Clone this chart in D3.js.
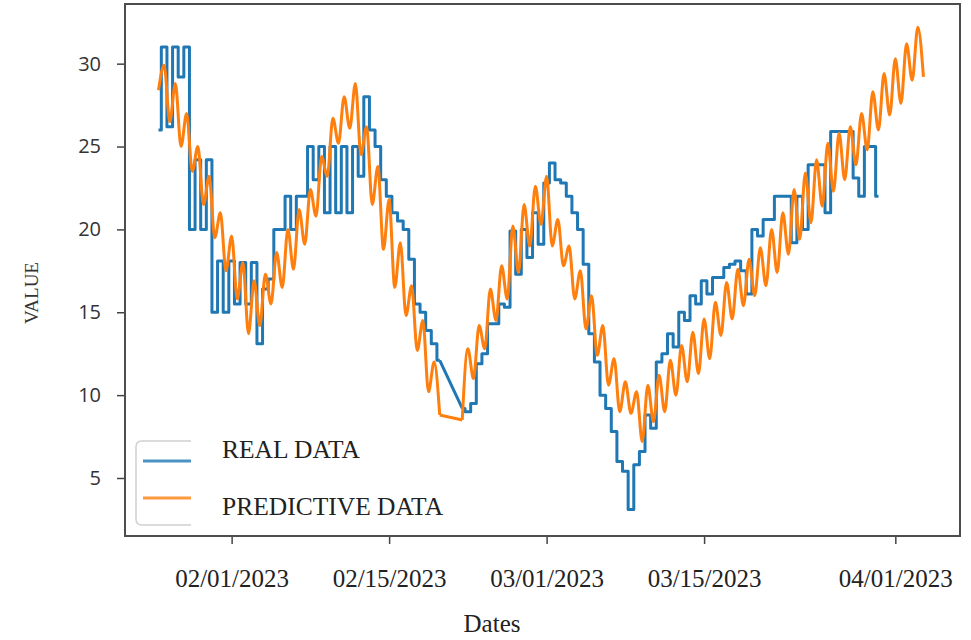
<!DOCTYPE html>
<html lang="en">
<head>
  <meta charset="UTF-8">
  <title>Real vs Predictive Data</title>
  <style>
    body {
      margin: 0;
      background: #fff;
    }
    svg {
      display: block;
    }
  </style>
</head>
<body>
  <svg width="971" height="640"></svg>

  <script src="https://d3js.org/d3.v7.min.js"></script>
  <script>
    // readings every 12 hours, first one on 2023-01-25 12:00 (UTC); null = no reading
    const seriesStart = Date.UTC(2023, 0, 25, 12);

    const realValues = [
      26.0, 31.0, 26.2, 31.0, 29.2, 31.0, 20.0, 24.2, 20.0, 24.2,
      15.0, 18.1, 15.0, 18.1, 15.5, 18.0, 15.5, 18.0, 13.1, 16.4,
      17.0, 20.0, 20.0, 22.0, 20.0, 22.0, 22.0, 25.0, 23.0, 25.0,
      21.0, 25.0, 21.0, 25.0, 21.0, 25.0, 23.2, 28.0, 26.0, 25.0,
      23.0, 22.0, 21.0, 20.5, 20.0, 18.2, 15.5, 15.0, 13.9, 13.1,
      12.1, null, null, null, 9.2, 9.0, 9.5, 11.9, 12.5, 14.3,
      14.3, 15.5, 15.3, 19.9, 17.3, 20.0, 18.3, 21.0, 19.1, 22.8,
      24.0, 23.0, 22.8, 22.0, 21.0, 20.0, 17.9, 13.7, 12.0, 10.0,
      9.2, 7.8, 6.0, 5.4, 3.1, 5.8, 6.6, 8.8, 8.0, 12.0,
      12.5, 13.7, 12.9, 15.0, 14.5, 16.0, 15.5, 16.9, 16.1, 17.1,
      17.1, 17.7, 17.9, 18.1, 17.5, 16.1, 20.0, 19.6, 20.6, 20.6,
      22.0, 22.0, 22.0, 19.2, 22.0, 20.0, 23.9, 23.9, 23.9, 21.0,
      25.9, 25.9, 25.9, 25.9, 23.1, 22.0, 25.0, 25.0, 22.0
    ];

    const predValues = [
      28.4, 29.9, 26.5, 28.8, 25.0, 27.0, 23.5, 25.0, 21.5, 23.2,
      19.5, 21.0, 17.5, 19.6, 15.8, 18.0, 13.7, 16.9, 14.2, 17.3,
      15.5, 18.6, 16.5, 20.0, 17.6, 21.2, 19.1, 22.4, 20.8, 24.4,
      23.2, 26.7, 25.2, 28.0, 26.1, 28.8, 24.5, 26.2, 21.5, 23.8,
      18.8, 21.8, 16.5, 19.2, 14.8, 16.6, 12.7, 14.5, 10.2, 12.0,
      8.8, null, null, null, 8.5, 12.8, 11.0, 14.2, 12.8, 16.4,
      14.5, 17.8, 15.8, 20.2, 17.4, 21.5, 19.0, 22.6, 20.3, 23.2,
      19.0, 20.6, 17.8, 19.0, 15.8, 17.5, 14.0, 16.0, 12.4, 14.2,
      10.6, 12.2, 9.0, 10.8, 8.9, 10.2, 7.2, 10.6, 8.4, 11.2,
      9.0, 12.1, 10.0, 13.0, 10.8, 13.8, 11.3, 14.6, 12.2, 15.6,
      13.6, 16.8, 14.6, 17.6, 15.4, 18.2, 16.0, 18.9, 16.6, 20.0,
      17.4, 21.0, 18.5, 22.4, 19.4, 23.4, 20.4, 24.2, 21.4, 25.2,
      22.3, 25.8, 23.0, 26.2, 23.9, 27.0, 24.8, 28.3, 26.0, 29.4,
      26.9, 30.3, 27.6, 31.2, 29.0, 32.2, 29.2
    ];

    const xTickDates = ["2023-02-01", "2023-02-15", "2023-03-01", "2023-03-15", "2023-04-01"];
    const xTickLabels = ["02/01/2023", "02/15/2023", "03/01/2023", "03/15/2023", "04/01/2023"];
    const yTicks = [5, 10, 15, 20, 25, 30];
    const seriesNames = ["REAL DATA", "PREDICTIVE DATA"];
    const seriesColors = ["#1f77b4", "#ff7f0e"];

    const svg = d3.select("svg");
    const plot = { left: 125, top: 4, right: 960, bottom: 536 };
    const serif = "'Liberation Serif', 'Times New Roman', serif";

    const x = d3.scaleUtc()
      .domain([Date.UTC(2023, 0, 22, 12, 30), Date.UTC(2023, 3, 6, 18)])
      .range([plot.left, plot.right]);

    const y = d3.scaleLinear()
      .domain([1.5, 33.6])
      .range([plot.bottom, plot.top]);

    const halfDay = 12 * 3600 * 1000;

    // split a series into runs of consecutive readings
    function runsOf(values) {
      const runs = [];
      let cur = [];
      values.forEach((v, i) => {
        if (v == null) {
          if (cur.length) runs.push(cur);
          cur = [];
        } else {
          cur.push({ t: new Date(seriesStart + i * halfDay), v: v });
        }
      });
      if (cur.length) runs.push(cur);
      return runs;
    }

    const straight = d3.line().x(d => x(d.t)).y(d => y(d.v));

    function drawSeries(values, color, curve) {
      const g = svg.append("g")
        .attr("fill", "none")
        .attr("stroke", color)
        .attr("stroke-width", 3)
        .attr("stroke-linejoin", "round");
      const runs = runsOf(values);
      const line = d3.line().x(d => x(d.t)).y(d => y(d.v)).curve(curve);
      runs.forEach((run, k) => {
        g.append("path").attr("d", line(run));
        // missing readings are bridged with a plain straight segment
        if (k < runs.length - 1) {
          g.append("path").attr("d", straight([run[run.length - 1], runs[k + 1][0]]));
        }
      });
    }

    drawSeries(realValues, seriesColors[0], d3.curveStep);
    drawSeries(predValues, seriesColors[1], d3.curveMonotoneX);

    // axes
    const xAxis = d3.axisBottom(x)
      .tickValues(xTickDates.map(s => new Date(s + "T00:00:00Z")))
      .tickFormat((d, i) => xTickLabels[i])
      .tickSize(8)
      .tickPadding(25);

    const gx = svg.append("g")
      .attr("transform", `translate(0,${plot.bottom})`)
      .call(xAxis);
    gx.select(".domain").remove();
    gx.selectAll(".tick line").attr("stroke", "#444").attr("stroke-width", 1.5);
    gx.selectAll(".tick text")
      .attr("font-family", serif)
      .attr("font-size", 25)
      .attr("fill", "#222");

    const yAxis = d3.axisLeft(y)
      .tickValues(yTicks)
      .tickSize(8)
      .tickPadding(16);

    const gy = svg.append("g")
      .attr("transform", `translate(${plot.left},0)`)
      .call(yAxis);
    gy.select(".domain").remove();
    gy.selectAll(".tick line").attr("stroke", "#444").attr("stroke-width", 1.5);
    gy.selectAll(".tick text")
      .attr("font-family", "'Open Sans', 'Noto Sans', sans-serif")
      .attr("font-size", 20)
      .attr("fill", "#333");

    // frame
    svg.append("rect")
      .attr("x", plot.left)
      .attr("y", plot.top)
      .attr("width", plot.right - plot.left)
      .attr("height", plot.bottom - plot.top)
      .attr("fill", "none")
      .attr("stroke", "#4d4d4d")
      .attr("stroke-width", 2);

    // axis titles
    svg.append("text")
      .attr("x", 492)
      .attr("y", 632)
      .attr("text-anchor", "middle")
      .attr("font-family", serif)
      .attr("font-size", 25)
      .attr("fill", "#222")
      .text("Dates");

    svg.append("text")
      .attr("transform", "translate(38,293) rotate(-90)")
      .attr("text-anchor", "middle")
      .attr("font-family", serif)
      .attr("font-size", 19)
      .attr("fill", "#333")
      .text("VALUE");

    // legend (box only wraps the handles, labels sit to the right)
    const legend = svg.append("g");
    legend.append("path")
      .attr("d", "M191,441 H142 Q136,441 136,447 V519 Q136,525 142,525 H191")
      .attr("fill", "none")
      .attr("stroke", "#d0d0d0")
      .attr("stroke-width", 1.5);

    const legendY = [461, 498];
    const labelY = [458, 515];
    seriesNames.forEach((name, i) => {
      legend.append("line")
        .attr("x1", 143).attr("x2", 191)
        .attr("y1", legendY[i]).attr("y2", legendY[i])
        .attr("stroke", seriesColors[i])
        .attr("stroke-opacity", 0.8)
        .attr("stroke-width", 3);
      legend.append("text")
        .attr("x", 222)
        .attr("y", labelY[i])
        .attr("font-family", serif)
        .attr("font-size", 25.5)
        .attr("fill", "#222")
        .text(name);
    });
  </script>
</body>
</html>
